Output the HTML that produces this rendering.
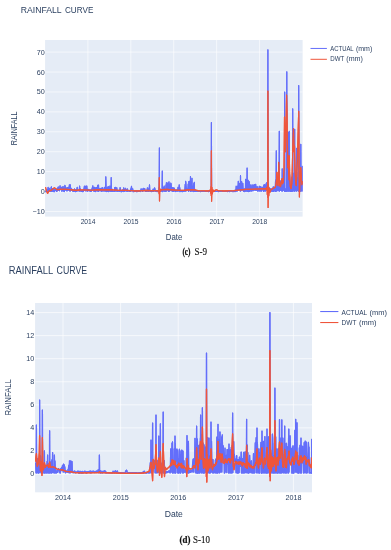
<!DOCTYPE html>
<html lang="en"><head><meta charset="utf-8"><title>Rainfall curves S-9 and S-10</title>
<style>html,body{margin:0;padding:0;background:#fff}body{width:391px;height:550px;overflow:hidden}svg{display:block}text{font-family:"Liberation Sans",Arial,sans-serif;fill:#2a3f5f}.cap{font-family:"Liberation Serif","Times New Roman",serif;fill:#111}</style>
</head><body>
<svg width="391" height="550" viewBox="0 0 391 550">
<rect width="391" height="550" fill="#fff"/>
<defs><clipPath id="c1"><rect x="45.1" y="40.0" width="257.5" height="176.6"/></clipPath><clipPath id="c2"><rect x="35.1" y="303.0" width="276.9" height="189.3"/></clipPath></defs>
<rect x="45.1" y="40.0" width="257.5" height="176.6" fill="#E5ECF6"/>
<g stroke="#fff" stroke-width="0.6"><line x1="87.90" y1="40.0" x2="87.90" y2="216.6"/><line x1="130.82" y1="40.0" x2="130.82" y2="216.6"/><line x1="173.74" y1="40.0" x2="173.74" y2="216.6"/><line x1="216.66" y1="40.0" x2="216.66" y2="216.6"/><line x1="259.58" y1="40.0" x2="259.58" y2="216.6"/><line x1="45.1" y1="211.53" x2="302.6" y2="211.53"/><line x1="45.1" y1="191.60" x2="302.6" y2="191.60" stroke-width="1.1"/><line x1="45.1" y1="171.67" x2="302.6" y2="171.67"/><line x1="45.1" y1="151.74" x2="302.6" y2="151.74"/><line x1="45.1" y1="131.81" x2="302.6" y2="131.81"/><line x1="45.1" y1="111.88" x2="302.6" y2="111.88"/><line x1="45.1" y1="91.95" x2="302.6" y2="91.95"/><line x1="45.1" y1="72.02" x2="302.6" y2="72.02"/><line x1="45.1" y1="52.09" x2="302.6" y2="52.09"/></g>
<g clip-path="url(#c1)" fill="none" stroke-linejoin="round">
<polyline id="b1" stroke="#636efa" stroke-width="1.15" points="45.10,191.51 45.40,191.56 45.70,191.24 46.00,191.09 46.30,191.17 46.60,191.51 46.90,190.78 47.20,189.75 47.50,190.91 47.80,191.54 48.10,187.29 48.40,189.68 48.70,191.38 49.00,191.15 49.30,188.33 49.60,189.97 49.90,191.22 50.20,191.24 50.50,191.31 50.80,190.55 51.10,187.72 51.40,186.88 51.70,191.42 52.00,188.53 52.30,191.19 52.60,188.98 52.90,191.18 53.20,190.92 53.50,191.56 53.80,190.89 54.10,189.09 54.40,191.58 54.70,189.81 55.00,190.50 55.30,189.20 55.60,190.24 55.90,188.99 56.20,190.97 56.50,191.40 56.80,189.90 57.10,191.30 57.40,188.26 57.70,190.44 58.00,187.78 58.30,186.92 58.60,190.24 58.90,190.27 59.20,190.06 59.50,190.83 59.80,187.03 60.10,185.73 60.40,188.86 60.70,188.34 61.00,188.94 61.30,188.40 61.60,187.22 61.90,191.31 62.20,187.84 62.50,187.22 62.80,190.68 63.10,186.56 63.40,188.67 63.70,191.28 64.00,190.56 64.30,191.55 64.60,189.90 64.90,185.39 65.20,187.21 65.50,190.06 65.80,187.41 66.10,189.92 66.40,190.14 66.70,190.90 67.00,189.07 67.30,187.69 67.60,190.72 67.90,189.72 68.20,187.22 68.50,187.98 68.80,189.82 69.10,190.31 69.40,184.81 69.70,190.06 70.00,191.25 70.30,184.87 70.60,190.82 70.90,190.17 71.20,188.29 71.50,190.01 71.80,189.67 72.10,189.42 72.40,189.64 72.70,191.13 73.00,191.29 73.30,191.45 73.60,190.23 73.90,191.41 74.20,189.90 74.50,188.91 74.80,190.95 75.10,191.24 75.40,191.59 75.70,189.85 76.00,191.48 76.30,191.20 76.60,191.20 76.90,189.16 77.20,187.30 77.50,190.81 77.80,190.18 78.10,190.81 78.40,190.90 78.70,190.14 79.00,190.14 79.30,190.13 79.60,186.08 79.90,191.49 80.20,188.69 80.50,190.21 80.80,190.57 81.10,191.02 81.40,191.36 81.70,191.10 82.00,191.29 82.30,190.31 82.60,191.59 82.90,191.59 83.20,191.29 83.50,191.13 83.80,189.26 84.10,188.58 84.40,186.34 84.70,190.18 85.00,186.17 85.30,190.71 85.60,186.69 85.90,190.94 86.20,190.61 86.50,186.25 86.80,186.01 87.10,191.07 87.40,191.18 87.70,191.23 88.00,189.26 88.30,190.80 88.60,190.36 88.90,189.61 89.20,190.05 89.50,190.30 89.80,190.46 90.10,191.49 90.40,191.54 90.70,191.30 91.00,189.49 91.30,191.01 91.60,191.18 91.90,189.82 92.20,187.83 92.50,188.89 92.80,185.92 93.10,188.73 93.40,190.44 93.70,188.15 94.00,191.33 94.30,187.35 94.60,190.65 94.90,191.06 95.20,187.79 95.50,190.73 95.80,191.59 96.10,188.24 96.40,187.58 96.70,189.41 97.00,190.68 97.30,190.36 97.60,185.25 97.90,191.34 98.20,191.52 98.30,191.20 98.50,190.51 98.50,185.02 98.70,191.00 98.80,191.36 99.10,190.15 99.40,190.59 99.70,190.40 100.00,188.40 100.30,189.72 100.60,190.93 100.90,190.79 101.20,188.53 101.50,191.00 101.80,191.52 102.10,187.70 102.40,189.92 102.70,187.72 103.00,191.01 103.30,190.78 103.60,190.83 103.90,189.91 104.20,191.13 104.50,187.26 104.80,189.47 105.10,190.55 105.40,190.88 105.60,191.20 105.70,187.70 105.80,176.85 106.00,185.84 106.00,191.00 106.30,191.57 106.60,190.10 106.90,187.78 107.20,191.27 107.50,187.20 107.80,191.39 108.10,190.22 108.40,186.67 108.70,191.56 109.00,190.90 109.30,188.42 109.60,188.24 109.90,186.08 110.20,191.41 110.50,190.20 110.80,188.47 111.00,191.20 111.10,191.25 111.20,177.65 111.40,191.44 111.40,191.00 111.70,190.80 112.00,189.49 112.30,189.32 112.60,191.49 112.90,191.07 113.20,191.05 113.50,191.17 113.80,191.33 114.10,191.16 114.40,191.40 114.70,187.68 115.00,190.08 115.30,191.13 115.60,187.31 115.90,189.01 116.20,190.83 116.50,190.05 116.80,187.78 117.10,191.49 117.40,191.49 117.70,191.29 118.00,190.54 118.30,191.11 118.60,190.97 118.90,191.20 119.20,191.27 119.50,191.45 119.80,190.85 120.10,187.49 120.40,189.37 120.70,190.52 121.00,191.58 121.30,190.58 121.60,191.60 121.90,190.66 122.20,191.32 122.50,189.89 122.80,190.53 123.10,190.73 123.40,191.56 123.70,187.75 124.00,191.25 124.30,189.83 124.60,191.47 124.90,190.94 125.20,189.00 125.50,188.32 125.80,190.51 126.10,191.06 126.40,189.49 126.70,191.25 127.00,190.83 127.30,188.90 127.60,191.34 127.90,190.13 128.20,190.92 128.50,190.81 128.80,191.10 129.10,190.63 129.40,190.78 129.70,191.38 130.00,191.31 130.30,191.35 130.60,189.20 130.90,191.41 131.20,188.57 131.50,186.43 131.80,189.83 132.10,190.44 132.40,190.37 132.70,188.81 133.00,191.56 133.30,191.22 133.60,191.27 133.90,191.60 134.20,191.25 134.50,191.48 134.80,191.39 135.10,190.78 135.40,191.17 135.70,191.13 136.00,190.68 136.30,191.24 136.60,191.57 136.90,190.79 137.20,191.56 137.50,191.54 137.80,191.34 138.10,190.70 138.40,191.33 138.70,190.99 139.00,190.89 139.30,191.33 139.60,190.85 139.90,190.97 140.20,191.58 140.50,191.13 140.80,190.65 141.10,188.87 141.40,190.49 141.70,190.72 142.00,190.87 142.30,189.07 142.60,191.51 142.90,191.30 143.20,189.95 143.50,188.31 143.80,190.42 144.10,189.28 144.40,190.75 144.70,188.67 145.00,190.79 145.30,190.76 145.60,191.48 145.90,191.31 146.20,191.23 146.50,191.40 146.80,191.36 147.10,190.56 147.40,187.81 147.70,191.18 148.00,189.82 148.30,190.13 148.60,191.53 148.90,187.97 149.20,190.55 149.50,184.78 149.80,191.13 150.10,190.85 150.40,191.12 150.70,191.43 151.00,191.49 151.30,191.40 151.60,191.08 151.90,191.59 152.20,191.06 152.50,191.35 152.80,190.97 153.10,188.98 153.40,190.18 153.70,191.51 154.00,191.21 154.30,189.69 154.60,187.90 154.90,188.93 155.20,190.74 155.50,191.24 155.80,190.87 156.10,191.59 156.40,191.18 156.70,191.20 157.00,191.14 157.30,191.59 157.60,190.96 157.90,191.51 158.20,191.23 158.50,191.45 158.80,191.08 159.10,187.07 159.20,191.20 159.40,147.95 159.40,190.44 159.60,191.00 159.70,189.50 160.00,191.02 160.30,191.14 160.60,190.61 160.90,191.33 161.20,190.61 161.50,189.55 161.80,191.14 162.10,191.20 162.10,189.75 162.30,171.07 162.40,191.55 162.50,191.00 162.70,191.55 163.00,187.36 163.30,190.85 163.60,190.90 163.90,191.07 164.20,186.08 164.50,191.07 164.80,190.56 165.10,191.36 165.40,191.39 165.70,191.51 166.00,184.82 166.20,191.20 166.30,190.44 166.40,182.83 166.60,191.00 166.60,190.74 166.90,182.82 167.20,189.94 167.50,183.69 167.80,189.43 168.10,183.05 168.40,191.45 168.70,191.24 168.80,191.20 169.00,181.83 169.00,183.17 169.20,191.00 169.30,183.68 169.60,191.13 169.90,190.88 170.20,188.64 170.50,190.06 170.80,183.18 171.10,183.88 171.40,190.78 171.70,190.28 172.00,187.65 172.30,191.18 172.60,187.90 172.90,191.21 173.20,191.41 173.50,188.07 173.80,187.84 174.10,190.97 174.40,188.31 174.70,190.30 175.00,191.13 175.30,191.46 175.60,191.58 175.90,190.30 176.20,189.99 176.50,190.97 176.80,191.09 177.10,191.34 177.40,189.86 177.70,190.76 178.00,187.43 178.30,190.59 178.60,190.80 178.90,191.15 179.20,184.91 179.50,186.78 179.80,188.25 180.10,191.59 180.40,191.04 180.70,191.48 181.00,191.30 181.30,191.11 181.60,191.42 181.90,191.57 182.20,191.13 182.50,191.60 182.80,191.15 183.10,191.16 183.40,191.46 183.70,191.46 184.00,191.40 184.30,191.18 184.60,190.88 184.90,189.48 185.20,184.43 185.40,191.20 185.50,191.02 185.60,181.24 185.80,191.00 185.80,181.74 186.10,186.41 186.40,189.59 186.70,190.72 187.00,189.90 187.30,188.97 187.60,189.72 187.90,189.65 188.20,184.07 188.50,191.39 188.80,181.51 189.10,188.17 189.40,181.37 189.70,187.30 190.00,189.89 190.30,191.20 190.30,191.42 190.50,176.65 190.60,183.92 190.70,191.00 190.90,189.20 191.20,189.14 191.50,181.26 191.80,191.20 191.80,186.82 192.00,178.25 192.10,189.42 192.20,191.00 192.40,189.90 192.70,186.21 193.00,191.05 193.30,191.54 193.60,186.44 193.90,182.98 194.20,191.20 194.20,190.24 194.40,182.23 194.50,191.52 194.60,191.00 194.80,189.52 195.10,190.15 195.40,191.36 195.70,191.52 196.00,191.50 196.30,191.11 196.60,191.36 196.90,191.20 197.20,191.35 197.50,191.19 197.80,191.13 198.10,191.49 198.40,191.35 198.70,191.28 199.00,191.21 199.30,191.21 199.60,191.42 199.90,191.40 200.20,191.56 200.50,191.59 200.80,191.47 201.10,191.35 201.40,191.16 201.70,191.37 202.00,191.22 202.30,191.28 202.60,191.44 202.90,191.18 203.20,191.23 203.50,191.38 203.80,191.31 204.10,191.37 204.40,191.48 204.70,191.45 205.00,191.18 205.30,191.52 205.60,191.44 205.90,191.52 206.20,191.51 206.50,191.24 206.80,191.12 207.10,191.41 207.40,191.20 207.70,191.38 208.00,191.28 208.30,191.50 208.60,191.58 208.90,191.21 209.20,191.35 209.50,191.37 209.80,191.30 210.10,191.23 210.40,191.39 210.70,191.23 211.00,191.49 211.20,191.20 211.30,191.16 211.40,122.64 211.60,191.00 211.60,191.25 211.90,191.26 212.20,191.37 212.50,191.29 212.80,191.39 213.10,191.24 213.40,191.48 213.70,191.37 214.00,191.40 214.30,191.14 214.60,191.27 214.90,191.41 215.20,191.11 215.50,191.33 215.80,191.21 216.10,191.34 216.40,191.31 216.70,191.24 217.00,191.28 217.30,191.34 217.60,191.13 217.90,191.26 218.20,191.22 218.50,191.11 218.80,191.57 219.10,191.40 219.40,191.39 219.70,191.25 220.00,191.47 220.30,191.23 220.60,191.34 220.90,191.20 221.20,191.49 221.50,191.21 221.80,191.28 222.10,191.32 222.40,191.12 222.70,191.28 223.00,191.19 223.30,191.45 223.60,191.54 223.90,191.42 224.20,191.47 224.50,191.47 224.80,191.51 225.10,191.24 225.40,191.48 225.70,191.36 226.00,191.28 226.30,191.42 226.60,191.17 226.90,191.19 227.20,191.21 227.50,191.19 227.80,191.59 228.10,191.13 228.40,191.48 228.70,191.53 229.00,191.21 229.30,191.52 229.60,191.21 229.90,191.16 230.20,191.21 230.50,191.15 230.80,191.18 231.10,191.25 231.40,191.23 231.70,191.16 232.00,191.47 232.30,191.53 232.60,191.57 232.90,191.53 233.20,191.35 233.50,191.59 233.80,190.76 234.10,191.04 234.40,191.49 234.70,191.56 235.00,190.21 235.30,190.84 235.60,191.55 235.90,191.09 236.20,186.20 236.50,190.45 236.80,190.97 237.10,191.16 237.40,186.34 237.70,187.70 238.00,189.64 238.30,181.38 238.60,185.36 238.90,189.26 239.20,188.95 239.50,183.45 239.80,185.50 240.10,189.78 240.30,191.20 240.40,188.88 240.50,175.66 240.70,191.00 240.70,189.73 241.00,189.56 241.30,190.23 241.60,181.63 241.90,186.50 242.20,189.64 242.50,189.25 242.80,183.31 243.10,190.65 243.40,188.81 243.70,191.48 244.00,189.88 244.30,191.56 244.60,188.80 244.90,190.37 245.20,190.97 245.40,191.20 245.50,186.74 245.60,179.24 245.80,191.00 245.80,191.24 246.10,179.92 246.40,180.73 246.70,190.88 246.90,191.20 247.00,181.87 247.10,168.08 247.30,191.00 247.30,189.47 247.60,191.35 247.90,190.22 248.20,180.21 248.50,191.57 248.80,189.16 249.10,187.35 249.40,181.91 249.70,191.42 250.00,190.76 250.30,185.68 250.60,185.03 250.90,190.80 251.20,189.79 251.50,191.04 251.80,190.25 252.10,184.87 252.40,190.01 252.70,186.08 253.00,190.88 253.30,189.89 253.60,184.98 253.90,189.30 254.20,190.04 254.50,184.55 254.80,189.94 255.10,186.24 255.40,190.29 255.70,184.41 256.00,190.07 256.30,189.82 256.60,190.30 256.90,186.81 257.20,190.09 257.50,186.84 257.80,191.15 258.10,189.91 258.40,190.47 258.70,188.29 259.00,190.91 259.30,186.28 259.60,186.53 259.90,190.88 260.20,190.09 260.50,190.94 260.80,186.52 261.10,189.94 261.40,191.10 261.70,189.79 262.00,189.41 262.30,187.26 262.60,187.59 262.90,188.34 263.20,190.56 263.50,191.45 263.80,185.07 264.10,191.02 264.40,189.43 264.70,184.61 265.00,186.02 265.30,191.10 265.60,188.63 265.90,189.54 266.20,183.55 266.50,190.13 266.80,182.60 267.10,189.47 267.40,184.57 267.70,191.20 267.70,191.47 267.90,49.90 268.00,189.08 268.10,191.00 268.30,191.40 268.60,189.37 268.90,187.90 269.20,187.76 269.50,191.34 269.80,190.54 270.10,191.48 270.40,190.85 270.70,188.65 271.00,190.85 271.30,189.69 271.60,190.94 271.90,191.28 272.20,188.79 272.50,191.20 272.80,191.22 273.10,187.14 273.40,186.89 273.70,191.35 274.00,188.57 274.30,189.30 274.60,190.41 274.90,187.07 275.20,191.43 275.50,181.93 275.80,179.82 276.10,191.20 276.10,181.26 276.30,150.74 276.40,186.84 276.50,191.00 276.70,191.04 277.00,190.95 277.30,183.23 277.60,189.47 277.90,186.37 278.20,190.12 278.50,185.72 278.80,189.17 279.10,191.20 279.10,183.13 279.30,131.21 279.40,190.38 279.50,191.00 279.70,181.97 280.00,181.23 280.30,190.13 280.60,190.18 280.90,180.71 281.20,190.50 281.50,186.64 281.80,183.03 282.00,191.20 282.10,190.06 282.20,168.88 282.40,191.00 282.40,189.16 282.70,180.77 283.00,182.06 283.30,181.72 283.60,190.12 283.90,189.99 284.20,190.53 284.50,191.20 284.50,183.42 284.70,92.15 284.80,191.46 284.90,191.00 285.10,190.67 285.40,188.84 285.70,191.11 286.00,191.38 286.30,189.20 286.60,191.20 286.60,182.12 286.80,71.82 286.90,180.43 287.00,191.00 287.20,190.90 287.50,190.81 287.80,189.74 287.90,191.20 288.10,132.41 288.10,189.09 288.30,191.00 288.40,187.88 288.70,181.33 289.00,186.91 289.10,191.20 289.30,131.41 289.30,187.70 289.50,191.00 289.60,174.51 289.90,187.13 290.20,188.57 290.50,191.27 290.80,191.50 291.10,187.89 291.40,187.73 291.70,191.44 292.00,177.27 292.30,176.77 292.50,191.20 292.60,188.63 292.70,108.89 292.90,191.00 292.90,189.53 293.20,173.13 293.50,191.02 293.80,189.14 294.10,189.05 294.40,183.87 294.50,191.20 294.70,129.22 294.70,184.10 294.90,191.00 295.00,180.42 295.30,182.60 295.60,188.68 295.90,190.64 296.20,188.98 296.40,191.20 296.50,190.11 296.60,148.35 296.80,191.00 296.80,182.62 297.10,179.00 297.40,178.02 297.70,190.46 298.00,190.24 298.30,172.63 298.50,191.20 298.60,175.52 298.70,85.57 298.90,191.00 298.90,189.50 299.20,185.03 299.50,191.08 299.80,188.07 300.10,183.79 300.40,188.65 300.60,191.20 300.70,189.12 300.80,144.37 301.00,191.00 301.00,187.97 301.30,188.21 301.60,173.61 301.90,174.20 302.20,191.20 302.20,189.22 302.40,166.29 302.50,189.60 302.60,191.00"/><use href="#b1"/>
<polyline id="r1" stroke="#EF553B" stroke-width="1.15" points="45.50,187.22 46.30,190.60 47.60,193.39 49.00,191.00 51.00,190.40 54.40,187.81 57.00,189.61 60.00,189.41 66.00,189.21 72.00,189.81 76.00,190.40 80.00,189.81 86.00,190.01 92.00,190.20 98.00,189.61 104.00,189.81 108.00,189.61 112.00,189.81 118.00,190.20 126.00,190.40 134.00,190.80 140.00,190.80 146.00,190.40 152.00,190.60 157.00,190.60 158.80,191.20 159.10,193.59 159.30,177.65 159.50,200.97 159.80,188.61 160.30,191.20 161.00,189.81 163.00,189.61 167.00,189.41 172.00,189.81 178.00,190.20 184.00,190.40 188.00,189.81 194.00,189.81 198.00,190.60 205.00,190.80 209.00,190.80 210.30,190.01 210.70,193.19 211.00,186.62 211.20,195.59 211.40,150.94 211.60,201.17 211.90,187.22 212.30,193.99 212.90,189.81 213.80,191.60 215.00,190.40 216.50,189.81 218.00,190.60 222.00,190.80 228.00,190.80 234.00,190.60 240.00,190.01 246.00,189.41 252.00,189.21 258.00,189.01 262.00,188.81 265.00,188.61 266.50,189.21 267.00,187.22 267.30,194.59 267.60,183.63 267.80,197.58 267.90,90.95 268.10,207.54 268.40,184.62 268.80,195.59 269.30,188.41 270.00,192.20 271.00,189.61 273.00,188.61 275.00,187.61 276.00,184.62 276.50,179.64 277.00,172.27 277.50,183.63 278.00,185.62 278.40,179.64 278.70,162.30 279.20,175.66 279.80,185.62 280.50,186.62 281.20,182.63 282.00,178.65 282.60,183.63 283.40,181.63 284.00,167.68 284.50,117.06 285.00,131.81 285.50,151.74 286.00,127.82 286.60,95.14 287.00,111.88 287.40,141.77 287.80,167.68 288.20,155.73 288.60,171.67 289.00,179.64 289.30,155.73 289.70,175.66 290.30,186.62 291.00,188.61 291.80,183.63 292.30,167.68 292.80,147.75 293.50,128.62 294.00,151.74 294.50,146.16 295.00,167.68 295.60,181.63 296.20,185.62 296.80,175.66 297.40,159.71 298.00,135.80 298.70,111.28 299.10,161.70 299.40,196.98 299.80,183.63 300.30,173.66 300.80,167.68 301.40,179.64 302.00,184.62 302.60,181.63 303.00,183.63"/><use href="#r1"/>
</g>
<text y="12.8" font-size="9.9"><tspan x="20.7" textLength="40.7" lengthAdjust="spacingAndGlyphs">RAINFALL</tspan> <tspan x="65.0" textLength="28.3" lengthAdjust="spacingAndGlyphs">CURVE</tspan></text>
<text x="44.7" y="214.03" font-size="7.2" text-anchor="end">−10</text>
<text x="44.7" y="194.10" font-size="7.2" text-anchor="end">0</text>
<text x="44.7" y="174.17" font-size="7.2" text-anchor="end">10</text>
<text x="44.7" y="154.24" font-size="7.2" text-anchor="end">20</text>
<text x="44.7" y="134.31" font-size="7.2" text-anchor="end">30</text>
<text x="44.7" y="114.38" font-size="7.2" text-anchor="end">40</text>
<text x="44.7" y="94.45" font-size="7.2" text-anchor="end">50</text>
<text x="44.7" y="74.52" font-size="7.2" text-anchor="end">60</text>
<text x="44.7" y="54.59" font-size="7.2" text-anchor="end">70</text>
<text x="88.10" y="224" font-size="6.7" text-anchor="middle">2014</text>
<text x="131.02" y="224" font-size="6.7" text-anchor="middle">2015</text>
<text x="173.94" y="224" font-size="6.7" text-anchor="middle">2016</text>
<text x="216.86" y="224" font-size="6.7" text-anchor="middle">2017</text>
<text x="259.78" y="224" font-size="6.7" text-anchor="middle">2018</text>
<text x="165.8" y="239.9" font-size="8.5" textLength="16.6" lengthAdjust="spacingAndGlyphs">Date</text>
<text transform="translate(17.2,145.2) rotate(-90)" font-size="8.6" textLength="33.7" lengthAdjust="spacingAndGlyphs">RAINFALL</text>
<line x1="310.5" y1="48.45" x2="326.9" y2="48.45" stroke="#636efa" stroke-width="1.0"/>
<line x1="310.5" y1="59.3" x2="326.9" y2="59.3" stroke="#EF553B" stroke-width="1.0"/>
<text y="50.5" font-size="6.9"><tspan x="330.35" textLength="23.05" lengthAdjust="spacingAndGlyphs">ACTUAL</tspan> <tspan x="355.9" textLength="16.4" lengthAdjust="spacingAndGlyphs">(mm)</tspan></text>
<text y="61.4" font-size="6.9"><tspan x="330.3" textLength="13.9" lengthAdjust="spacingAndGlyphs">DWT</tspan> <tspan x="346.3" textLength="16.6" lengthAdjust="spacingAndGlyphs">(mm)</tspan></text>
<text class="cap" x="182.4" y="255.4" font-size="9.3" font-weight="bold" stroke="#111" stroke-width="0.2" textLength="8.1" lengthAdjust="spacingAndGlyphs">(c)</text><text class="cap" x="194.5" y="255.4" font-size="9.3" stroke="#111" stroke-width="0.12" textLength="12.6" lengthAdjust="spacingAndGlyphs">S-9</text>
<rect x="35.1" y="303.0" width="276.9" height="189.3" fill="#E5ECF6"/>
<g stroke="#fff" stroke-width="0.65"><line x1="63.00" y1="303.0" x2="63.00" y2="492.3"/><line x1="120.60" y1="303.0" x2="120.60" y2="492.3"/><line x1="178.20" y1="303.0" x2="178.20" y2="492.3"/><line x1="235.80" y1="303.0" x2="235.80" y2="492.3"/><line x1="293.40" y1="303.0" x2="293.40" y2="492.3"/><line x1="35.1" y1="474.00" x2="312.0" y2="474.00" stroke-width="1.2"/><line x1="35.1" y1="450.94" x2="312.0" y2="450.94"/><line x1="35.1" y1="427.88" x2="312.0" y2="427.88"/><line x1="35.1" y1="404.82" x2="312.0" y2="404.82"/><line x1="35.1" y1="381.76" x2="312.0" y2="381.76"/><line x1="35.1" y1="358.70" x2="312.0" y2="358.70"/><line x1="35.1" y1="335.64" x2="312.0" y2="335.64"/><line x1="35.1" y1="312.58" x2="312.0" y2="312.58"/></g>
<g clip-path="url(#c2)" fill="none" stroke-linejoin="round">
<polyline id="b2" stroke="#636efa" stroke-width="1.25" points="35.10,463.42 35.40,464.51 35.70,463.10 36.00,472.81 36.22,471.95 36.30,460.65 36.40,425.06 36.58,471.95 36.60,472.93 36.90,472.63 37.20,469.01 37.50,458.56 37.80,461.18 38.10,473.09 38.40,468.20 38.70,472.96 39.00,472.83 39.30,458.05 39.42,471.95 39.60,460.84 39.60,400.06 39.78,471.95 39.90,460.54 40.20,465.61 40.50,455.88 40.80,459.92 41.10,472.97 41.40,473.06 41.70,464.04 42.00,464.23 42.22,471.95 42.30,457.98 42.40,410.09 42.58,471.95 42.60,472.98 42.90,463.13 43.20,464.08 43.50,472.74 43.80,465.71 44.10,472.91 44.22,471.95 44.40,462.00 44.40,450.98 44.58,471.95 44.70,472.96 45.00,473.07 45.30,468.09 45.60,465.36 45.90,472.68 46.20,472.73 46.50,472.86 46.80,472.94 47.10,461.49 47.40,472.59 47.42,471.95 47.60,455.01 47.70,472.87 47.78,471.95 48.00,463.28 48.30,472.53 48.60,472.95 48.90,466.59 49.20,473.06 49.42,471.95 49.50,472.76 49.60,430.82 49.78,471.95 49.80,472.75 50.10,466.60 50.40,466.33 50.70,462.84 51.00,473.01 51.30,461.33 51.60,472.99 51.90,459.95 52.20,472.55 52.42,471.95 52.50,463.69 52.60,452.71 52.78,471.95 52.80,468.79 53.10,472.55 53.40,472.69 53.70,472.63 54.00,466.95 54.22,471.95 54.30,472.69 54.40,455.01 54.58,471.95 54.60,472.97 54.90,460.95 55.20,467.09 55.50,467.84 55.80,472.94 56.10,471.05 56.40,472.82 56.70,472.29 57.00,471.40 57.30,470.46 57.60,472.49 57.90,471.43 58.20,468.99 58.50,468.58 58.80,470.07 59.10,469.91 59.40,470.41 59.70,472.45 60.00,472.94 60.30,473.02 60.60,468.91 60.90,469.87 61.20,470.70 61.50,467.70 61.80,468.83 62.10,470.39 62.40,465.85 62.70,465.85 63.00,465.44 63.22,471.95 63.30,468.61 63.40,464.23 63.58,471.95 63.60,464.63 63.90,468.15 64.20,464.91 64.50,466.67 64.80,466.98 65.10,471.70 65.40,472.92 65.70,471.63 66.00,470.81 66.30,471.07 66.60,471.42 66.90,472.21 67.20,471.41 67.50,471.76 67.80,472.09 68.10,469.31 68.40,469.73 68.70,465.68 69.00,472.70 69.30,464.37 69.32,471.95 69.50,460.77 69.60,467.81 69.68,471.95 69.90,472.93 70.20,468.29 70.50,472.58 70.62,471.95 70.80,466.06 70.80,460.77 70.98,471.95 71.10,467.15 71.40,468.33 71.70,462.44 72.00,461.67 72.30,472.30 72.60,471.89 72.90,472.44 73.20,472.82 73.50,472.07 73.80,471.36 74.10,471.34 74.40,471.63 74.70,471.13 75.00,472.53 75.30,472.75 75.60,472.17 75.90,472.53 76.20,472.66 76.50,472.24 76.80,471.80 77.10,472.08 77.40,472.45 77.70,471.36 78.00,471.06 78.30,472.16 78.60,472.95 78.90,473.03 79.20,471.29 79.50,473.01 79.80,471.63 80.10,471.92 80.40,472.46 80.70,471.46 81.00,473.06 81.30,472.82 81.60,472.16 81.90,473.05 82.20,471.38 82.50,472.61 82.80,472.81 83.10,473.00 83.40,471.80 83.70,472.17 84.00,471.79 84.30,471.74 84.60,471.43 84.90,471.11 85.20,471.68 85.50,472.69 85.80,472.11 86.10,472.73 86.40,473.08 86.70,472.12 87.00,471.62 87.30,472.73 87.60,472.54 87.90,472.38 88.20,471.65 88.50,472.02 88.80,471.83 89.10,471.53 89.40,472.28 89.70,471.46 90.00,471.22 90.30,472.92 90.60,471.17 90.90,471.60 91.20,472.83 91.50,472.16 91.80,471.80 92.10,471.21 92.40,472.32 92.70,471.92 93.00,471.28 93.30,471.45 93.60,471.14 93.90,472.14 94.20,471.75 94.50,472.68 94.80,471.60 95.10,471.40 95.40,471.77 95.70,471.61 96.00,472.66 96.30,471.23 96.60,471.07 96.90,471.07 97.20,471.99 97.50,471.46 97.80,472.44 98.10,469.96 98.40,470.14 98.70,471.90 99.00,472.81 99.22,471.95 99.30,471.58 99.40,455.01 99.58,471.95 99.60,471.20 99.90,470.44 100.20,471.42 100.50,473.00 100.80,471.24 101.10,472.95 101.40,471.26 101.70,472.70 102.00,472.33 102.30,471.28 102.60,472.78 102.90,472.76 103.20,471.91 103.50,471.43 103.80,471.16 104.10,471.51 104.40,470.92 104.70,471.97 105.00,470.91 105.30,472.90 105.60,472.59 105.90,471.89 106.20,472.93 106.50,472.68 106.80,472.73 107.10,472.80 107.40,472.61 107.70,472.78 108.00,472.92 108.30,472.88 108.60,472.61 108.90,472.58 109.20,472.98 109.50,472.61 109.80,472.54 110.10,472.80 110.40,472.77 110.70,472.98 111.00,472.79 111.30,472.81 111.60,472.75 111.90,473.08 112.20,472.54 112.50,472.80 112.80,472.87 113.10,471.25 113.40,471.80 113.70,471.97 114.00,471.51 114.30,472.95 114.60,471.86 114.90,472.15 115.20,470.90 115.50,470.97 115.80,472.48 116.10,472.01 116.40,472.81 116.70,472.10 117.00,471.22 117.30,471.03 117.60,472.00 117.90,472.37 118.20,472.99 118.50,472.74 118.80,472.57 119.10,473.03 119.40,472.65 119.70,473.09 120.00,472.99 120.30,472.97 120.60,472.70 120.90,472.91 121.20,472.90 121.50,472.74 121.80,473.04 122.10,472.68 122.40,473.03 122.70,472.81 123.00,472.96 123.30,472.99 123.60,472.79 123.90,472.85 124.20,472.88 124.50,472.86 124.80,472.80 125.10,472.55 125.40,472.39 125.70,470.92 126.00,470.89 126.30,471.27 126.60,470.16 126.90,470.99 127.20,472.61 127.50,472.97 127.80,472.67 128.10,472.63 128.40,472.58 128.70,472.92 129.00,472.92 129.30,472.57 129.60,472.97 129.90,472.52 130.20,472.59 130.50,473.02 130.80,472.96 131.10,472.68 131.40,472.95 131.70,473.04 132.00,472.62 132.30,472.86 132.60,472.64 132.90,473.03 133.20,472.87 133.50,472.71 133.80,473.09 134.10,472.98 134.40,472.71 134.70,472.58 135.00,472.54 135.30,473.03 135.60,472.81 135.90,472.66 136.20,472.81 136.50,472.71 136.80,472.99 137.10,473.06 137.40,473.04 137.70,473.08 138.00,472.78 138.30,472.80 138.60,472.77 138.90,473.02 139.20,472.99 139.50,472.98 139.80,472.62 140.10,472.53 140.40,472.57 140.70,473.05 141.00,473.06 141.30,472.55 141.60,472.83 141.90,472.66 142.20,472.91 142.50,472.83 142.80,472.80 143.10,472.11 143.40,471.72 143.70,473.07 144.00,471.48 144.30,471.15 144.60,472.68 144.90,472.05 145.20,472.67 145.50,472.87 145.80,472.99 146.10,473.00 146.40,472.80 146.70,473.09 147.00,472.59 147.30,472.64 147.60,472.69 147.90,472.60 148.20,472.74 148.50,472.87 148.80,472.75 149.10,472.81 149.40,472.53 149.70,472.64 150.00,472.95 150.30,463.06 150.60,462.35 150.82,471.95 150.90,461.50 151.00,440.04 151.18,471.95 151.20,463.56 151.50,462.85 151.80,463.28 152.10,472.90 152.40,469.87 152.42,471.95 152.60,423.10 152.70,464.13 152.78,471.95 153.00,468.03 153.30,463.85 153.60,463.92 153.90,465.17 154.20,460.43 154.50,463.50 154.80,460.64 155.10,472.75 155.40,467.80 155.70,469.58 155.82,471.95 156.00,415.04 156.00,472.88 156.18,471.95 156.30,472.96 156.60,465.01 156.90,460.77 157.20,460.48 157.50,462.40 157.80,472.76 158.10,469.62 158.40,468.67 158.62,471.95 158.70,468.59 158.80,436.01 158.98,471.95 159.00,464.40 159.30,472.56 159.60,465.24 159.90,466.79 160.20,472.72 160.22,471.95 160.40,423.91 160.50,467.56 160.58,471.95 160.80,467.44 161.10,472.96 161.40,473.01 161.70,466.56 162.00,463.02 162.30,472.53 162.60,469.39 162.90,466.18 163.02,471.95 163.20,412.04 163.20,460.71 163.38,471.95 163.50,472.80 163.80,463.28 164.10,460.65 164.40,464.48 164.70,472.74 165.00,472.05 165.30,472.63 165.60,472.98 165.90,471.88 166.20,472.81 166.50,472.08 166.80,471.56 167.10,472.05 167.40,472.50 167.70,471.76 168.00,472.13 168.30,471.31 168.60,471.88 168.90,470.80 169.20,470.91 169.50,471.41 169.80,472.55 170.10,472.84 170.40,471.04 170.70,449.00 171.00,458.28 171.30,450.63 171.60,448.78 171.82,471.95 171.90,460.29 172.00,443.03 172.18,471.95 172.20,472.54 172.50,441.97 172.80,473.06 173.10,472.86 173.40,462.35 173.70,463.01 174.00,472.71 174.30,448.84 174.60,452.94 174.82,471.95 174.90,472.90 175.00,436.01 175.18,471.95 175.20,443.10 175.50,473.03 175.80,449.04 176.10,459.73 176.40,458.62 176.70,460.99 177.00,449.12 177.30,472.78 177.60,450.48 177.90,460.99 178.20,472.60 178.50,473.05 178.80,458.87 179.10,462.25 179.22,471.95 179.40,449.25 179.40,465.99 179.58,471.95 179.70,472.72 180.00,472.93 180.30,454.91 180.60,473.02 180.82,471.95 180.90,454.30 181.00,450.98 181.18,471.95 181.20,465.33 181.50,457.29 181.80,450.10 182.10,459.73 182.40,462.14 182.70,472.87 183.00,451.00 183.30,472.89 183.60,461.09 183.90,460.66 184.20,472.43 184.50,471.15 184.80,470.35 185.10,471.23 185.40,470.21 185.70,471.16 186.00,472.66 186.30,458.03 186.60,472.80 186.82,471.95 186.90,450.56 187.00,435.66 187.18,471.95 187.20,448.29 187.50,463.20 187.80,444.51 188.10,473.05 188.40,441.40 188.70,472.81 189.00,470.91 189.30,472.60 189.60,470.52 189.90,470.86 190.20,472.25 190.50,472.34 190.80,470.45 191.10,471.30 191.40,470.46 191.70,471.74 192.00,471.93 192.30,469.75 192.60,464.19 192.90,461.52 193.20,459.17 193.42,471.95 193.50,460.25 193.60,459.05 193.78,471.95 193.80,459.92 194.10,460.16 194.40,458.64 194.70,463.84 195.00,438.32 195.30,450.74 195.60,472.67 195.90,452.14 196.20,472.98 196.42,471.95 196.50,454.70 196.60,426.21 196.78,471.95 196.80,461.34 197.10,473.03 197.40,439.20 197.70,473.06 198.00,445.52 198.30,461.92 198.60,472.99 198.90,472.96 199.20,445.17 199.50,472.99 199.80,473.00 200.10,454.10 200.40,437.82 200.42,471.95 200.60,415.04 200.70,455.65 200.78,471.95 201.00,434.55 201.30,446.70 201.60,448.78 201.90,473.07 202.20,438.35 202.22,471.95 202.40,407.78 202.50,447.34 202.58,471.95 202.80,455.23 203.10,443.12 203.40,473.09 203.70,452.26 204.00,444.82 204.30,460.27 204.60,472.91 204.90,472.60 205.20,447.05 205.50,457.43 205.80,460.44 206.10,463.86 206.32,471.95 206.40,440.88 206.50,353.06 206.68,471.95 206.70,462.11 207.00,472.69 207.30,472.82 207.60,437.59 207.90,440.54 208.20,472.65 208.50,438.76 208.80,472.62 208.82,471.95 209.00,438.08 209.10,472.79 209.18,471.95 209.40,460.26 209.70,456.22 210.00,473.06 210.30,472.83 210.60,454.91 210.82,471.95 210.90,461.55 211.00,422.07 211.18,471.95 211.20,452.07 211.50,441.37 211.80,463.66 212.10,460.77 212.40,472.78 212.70,468.99 213.00,459.61 213.30,472.75 213.60,472.88 213.90,465.87 214.20,464.75 214.50,466.36 214.80,472.68 215.10,472.56 215.40,460.59 215.70,459.25 216.00,473.02 216.30,472.71 216.60,458.02 216.90,437.16 217.20,460.53 217.50,473.01 217.80,472.87 217.82,471.95 218.00,424.49 218.10,472.57 218.18,471.95 218.40,447.85 218.70,439.50 219.00,451.82 219.30,451.00 219.60,472.87 219.82,471.95 219.90,432.24 220.00,431.97 220.18,471.95 220.20,443.03 220.50,462.34 220.80,453.17 221.10,460.09 221.40,447.92 221.42,471.95 221.60,437.04 221.70,437.55 221.78,471.95 222.00,458.64 222.30,434.93 222.60,452.85 222.90,459.11 223.20,445.75 223.50,451.84 223.80,462.71 224.10,453.78 224.40,473.05 224.70,472.77 224.82,471.95 225.00,448.10 225.00,460.08 225.18,471.95 225.30,459.42 225.60,464.10 225.90,463.89 226.20,455.59 226.50,455.22 226.80,472.58 227.10,449.57 227.40,464.13 227.70,460.90 228.00,461.86 228.30,449.28 228.60,472.78 228.82,471.95 228.90,473.08 229.00,444.07 229.18,471.95 229.20,472.53 229.50,453.09 229.80,472.71 230.10,459.00 230.40,449.88 230.70,472.99 231.00,459.85 231.30,447.49 231.60,472.80 231.90,472.77 232.20,445.28 232.42,471.95 232.50,472.71 232.60,413.08 232.78,471.95 232.80,472.55 233.10,450.51 233.40,445.83 233.70,441.65 234.00,460.21 234.30,454.11 234.60,461.49 234.90,458.85 235.20,459.53 235.50,461.10 235.80,462.93 236.10,472.68 236.40,455.98 236.70,455.63 237.00,472.76 237.30,473.03 237.60,459.93 237.90,466.99 238.20,459.53 238.50,472.92 238.80,464.28 239.10,472.58 239.40,457.14 239.70,461.28 240.00,464.50 240.30,458.84 240.60,466.34 240.90,465.98 241.20,452.10 241.50,472.96 241.80,472.91 242.10,472.58 242.40,461.68 242.70,458.52 243.00,473.08 243.30,463.14 243.60,452.40 243.90,460.43 244.20,472.93 244.50,453.07 244.80,472.62 245.10,451.76 245.40,472.59 245.70,459.12 246.00,459.40 246.30,462.86 246.42,471.95 246.60,419.30 246.60,472.68 246.78,471.95 246.90,472.58 247.20,444.82 247.50,472.70 247.80,452.53 248.10,472.97 248.40,472.69 248.70,473.00 249.00,472.72 249.30,463.25 249.60,455.37 249.90,465.30 250.20,472.57 250.50,464.63 250.80,467.17 251.10,462.25 251.40,460.89 251.70,472.75 252.00,472.96 252.30,467.20 252.60,472.66 252.90,472.94 253.20,465.89 253.50,453.71 253.80,472.83 254.10,463.07 254.40,461.35 254.70,472.78 255.00,454.91 255.30,442.76 255.60,450.83 255.90,445.67 256.20,437.71 256.50,472.65 256.80,472.75 256.82,471.95 257.00,428.06 257.10,472.85 257.18,471.95 257.40,442.65 257.70,458.24 258.00,458.62 258.30,451.02 258.60,472.76 258.90,448.91 259.20,459.69 259.50,473.09 259.80,452.83 260.10,457.52 260.40,462.34 260.70,449.02 261.00,442.50 261.30,473.02 261.60,473.08 261.82,471.95 261.90,472.74 262.00,431.05 262.18,471.95 262.20,457.48 262.50,461.96 262.80,459.91 263.10,473.01 263.40,441.33 263.70,462.61 264.00,454.78 264.30,472.54 264.60,472.82 264.90,436.66 265.20,472.84 265.50,463.10 265.80,472.59 266.10,472.87 266.40,472.86 266.70,473.08 266.82,471.95 267.00,429.09 267.00,443.34 267.18,471.95 267.30,458.40 267.60,472.78 267.90,472.83 268.20,454.79 268.50,436.81 268.80,463.09 269.10,445.03 269.40,472.90 269.70,438.28 269.72,471.95 269.90,312.51 270.00,437.58 270.08,471.95 270.30,452.79 270.60,453.14 270.90,457.88 271.20,458.76 271.50,459.29 271.80,472.98 272.10,455.25 272.40,434.15 272.70,438.34 273.00,472.88 273.30,472.70 273.60,456.22 273.90,473.00 274.20,472.87 274.50,442.99 274.72,471.95 274.80,472.89 274.90,388.20 275.08,471.95 275.10,472.56 275.40,441.41 275.70,436.92 276.00,472.91 276.30,461.40 276.60,454.77 276.90,449.02 277.20,472.87 277.50,473.08 277.80,472.76 278.10,472.92 278.40,448.27 278.70,472.69 279.00,472.68 279.30,459.74 279.32,471.95 279.50,419.65 279.60,472.94 279.68,471.95 279.90,452.43 280.20,438.23 280.50,472.93 280.80,457.87 281.10,473.09 281.40,447.60 281.62,471.95 281.70,434.72 281.80,419.88 281.98,471.95 282.00,472.71 282.30,457.86 282.60,444.50 282.90,438.16 283.20,472.74 283.50,472.85 283.80,461.98 284.10,454.68 284.40,456.07 284.52,471.95 284.70,426.21 284.70,472.87 284.88,471.95 285.00,459.21 285.30,457.20 285.60,472.90 285.90,459.64 286.20,443.42 286.50,443.46 286.80,472.87 287.10,461.91 287.40,462.11 287.70,446.99 288.00,454.76 288.30,473.09 288.60,437.41 288.62,471.95 288.80,429.09 288.90,456.58 288.98,471.95 289.20,458.69 289.50,446.09 289.80,453.68 290.10,435.79 290.40,445.72 290.70,452.26 291.00,461.65 291.30,449.22 291.60,448.57 291.90,473.02 292.20,461.02 292.50,447.11 292.80,472.99 292.82,471.95 293.00,445.80 293.10,472.71 293.18,471.95 293.40,473.10 293.70,459.34 294.00,472.82 294.30,456.22 294.60,444.78 294.90,430.45 295.20,451.92 295.50,453.00 295.52,471.95 295.70,419.30 295.80,440.14 295.88,471.95 296.10,430.62 296.40,457.80 296.70,447.15 296.82,471.95 297.00,422.76 297.00,451.17 297.18,471.95 297.30,472.67 297.60,455.42 297.90,472.91 298.20,472.80 298.50,473.06 298.80,473.04 299.10,463.21 299.40,447.77 299.70,462.16 300.00,445.31 300.30,472.95 300.60,447.16 300.82,471.95 300.90,449.17 301.00,438.08 301.18,471.95 301.20,472.69 301.50,472.91 301.80,446.00 302.10,452.82 302.40,449.40 302.70,446.29 303.00,462.95 303.30,450.32 303.60,472.99 303.90,472.76 304.20,442.75 304.50,472.70 304.80,451.26 305.02,471.95 305.10,443.70 305.20,441.19 305.38,471.95 305.40,464.48 305.70,463.09 306.00,472.94 306.30,442.16 306.60,472.91 306.90,472.79 307.20,457.43 307.50,472.64 307.80,459.49 308.10,451.59 308.40,442.48 308.70,449.71 309.00,447.07 309.30,473.00 309.60,472.56 309.90,472.82 310.20,472.91 310.50,472.77 310.80,472.74 311.10,472.97 311.40,457.61 311.52,471.95 311.70,439.46 311.70,473.07 311.88,471.95"/><use href="#b2"/>
<polyline id="r2" stroke="#EF553B" stroke-width="1.25" points="35.30,461.58 36.40,453.52 37.30,466.19 38.50,462.73 39.30,452.36 39.60,435.66 39.90,459.28 40.50,470.80 41.30,461.58 42.00,475.40 42.40,437.73 42.80,463.88 43.40,469.64 44.40,462.73 45.30,467.34 46.00,465.73 47.60,465.04 48.80,467.34 49.60,462.16 50.40,467.34 52.60,466.76 54.40,467.34 57.00,469.07 60.00,469.64 63.40,470.22 66.00,471.37 70.00,471.72 75.00,472.75 85.00,472.87 99.00,472.75 99.40,471.72 100.00,472.52 110.00,472.87 125.00,473.45 140.00,473.33 146.00,472.52 149.00,471.37 150.05,467.53 150.20,467.34 150.50,465.00 150.95,462.27 151.00,462.73 151.40,465.64 151.80,470.80 151.85,470.81 152.30,475.92 152.60,480.70 152.75,475.35 153.20,459.36 153.20,459.28 153.65,463.34 154.00,468.49 154.10,467.63 154.55,464.84 155.00,464.67 155.20,462.73 155.45,457.16 155.90,447.55 156.00,444.65 156.35,455.09 156.60,462.73 156.80,464.85 157.25,470.22 157.40,471.95 157.70,469.79 158.15,467.11 158.20,466.19 158.60,459.76 158.80,458.12 159.05,463.62 159.50,475.40 159.50,475.40 159.95,462.79 160.40,452.59 160.40,451.67 160.85,464.85 161.00,469.64 161.30,472.50 161.75,476.77 161.80,477.25 162.20,469.05 162.60,462.73 162.65,461.88 163.10,447.61 163.20,443.72 163.55,454.93 163.80,465.04 164.00,467.38 164.45,475.73 164.50,476.56 164.90,470.78 165.30,467.34 166.50,469.64 168.00,467.92 170.00,466.19 170.75,464.62 171.20,462.89 171.65,465.38 172.00,462.73 172.10,459.76 172.55,461.84 173.00,460.28 173.45,461.12 173.50,463.88 173.90,464.51 174.35,463.21 174.80,463.70 175.00,461.00 175.25,464.32 175.70,466.43 176.15,466.35 176.50,466.19 176.60,465.61 177.05,467.92 177.50,464.56 177.95,465.86 178.00,465.04 178.40,465.79 178.85,463.15 179.30,464.59 179.40,464.46 179.75,465.48 180.20,464.84 180.65,463.92 181.00,465.04 181.10,467.29 181.55,463.37 182.00,467.92 182.45,465.50 182.90,465.56 183.00,467.34 183.35,467.92 183.80,466.18 185.00,467.92 186.05,469.21 186.40,469.64 186.50,470.83 186.80,476.56 186.95,466.56 187.00,458.70 187.40,470.80 187.40,470.80 187.85,469.62 188.30,465.29 188.50,467.92 190.00,469.07 192.00,468.49 192.80,467.92 193.25,466.38 193.60,466.76 193.70,465.52 194.15,465.67 194.60,467.64 195.00,467.34 195.05,467.92 195.50,464.83 195.95,460.68 196.00,462.73 196.40,456.00 196.60,447.76 196.85,452.90 197.20,465.04 197.30,463.15 197.75,465.22 198.00,469.64 198.20,467.92 198.65,459.96 199.00,460.43 199.10,463.10 199.55,457.79 199.80,454.67 200.00,450.75 200.45,441.47 200.60,442.69 200.90,452.31 201.20,459.28 201.35,454.03 201.80,451.99 201.80,452.36 202.25,434.91 202.40,427.02 202.70,442.94 203.00,455.82 203.15,461.66 203.60,468.49 203.60,468.49 204.05,465.90 204.40,459.28 204.50,458.89 204.95,461.16 205.20,467.34 205.40,467.53 205.85,463.18 205.90,459.28 206.30,472.97 206.30,476.56 206.50,389.23 206.75,466.36 206.80,482.09 207.20,460.85 207.30,454.67 207.65,464.67 208.00,470.80 208.10,468.95 208.55,462.05 209.00,459.60 209.00,459.28 209.45,462.96 209.90,467.92 210.00,466.19 210.35,457.07 210.80,455.81 211.00,448.91 211.25,454.72 211.70,462.54 211.70,465.04 212.15,467.92 212.50,469.64 212.60,468.59 213.05,466.50 213.50,466.15 213.95,464.26 214.00,465.04 214.40,466.07 214.85,464.76 215.30,465.42 215.75,462.92 216.00,463.88 216.20,463.84 216.65,461.97 217.10,455.84 217.30,459.28 217.55,451.42 218.00,441.50 218.00,445.45 218.45,453.61 218.80,459.28 218.90,458.89 219.35,454.73 219.80,454.65 220.00,453.52 220.25,456.98 220.70,459.15 221.00,460.43 221.15,462.21 221.60,456.84 221.60,455.82 222.05,453.99 222.50,456.45 222.95,461.43 223.00,462.73 223.40,462.27 223.85,462.65 224.30,463.51 224.75,461.98 225.00,460.43 225.20,459.10 225.65,459.15 226.10,462.46 226.55,460.63 227.00,461.21 227.00,462.73 227.45,460.88 227.90,460.27 228.35,458.96 228.80,460.38 229.00,459.28 229.25,458.72 229.70,462.10 230.15,462.00 230.50,462.73 230.60,460.80 231.05,458.80 231.50,459.92 231.80,456.97 231.95,449.16 232.40,438.52 232.60,433.93 232.85,443.59 233.30,466.56 233.30,462.73 233.75,466.81 234.00,469.64 234.20,468.26 234.65,464.40 235.00,462.73 235.10,462.92 235.55,461.50 236.00,462.37 236.45,461.85 236.90,463.95 237.00,463.31 237.35,462.74 237.80,462.42 238.25,462.11 238.70,464.29 239.15,462.22 239.60,462.19 240.00,463.88 240.05,463.07 240.50,461.90 240.95,462.07 241.40,464.07 241.85,464.11 242.30,465.79 242.75,462.94 243.00,464.46 243.20,462.59 243.65,464.71 244.10,463.88 244.55,463.86 245.00,463.91 245.45,467.44 245.50,465.04 245.90,464.29 246.20,467.34 246.35,458.54 246.60,445.45 246.80,453.45 247.10,468.49 247.25,467.92 247.70,464.51 248.00,463.88 248.15,462.89 248.60,463.69 249.05,463.63 249.50,466.60 249.95,466.34 250.00,465.04 250.40,465.73 250.85,465.43 251.30,467.63 251.75,466.32 252.00,467.34 252.20,466.71 252.65,467.92 253.10,466.82 253.55,467.52 254.00,467.92 254.00,466.19 254.45,466.59 254.90,464.83 255.35,465.43 255.50,462.73 255.80,463.84 256.25,463.28 256.40,459.28 256.70,454.35 257.00,448.91 257.15,452.75 257.60,459.93 257.70,462.73 258.05,464.08 258.50,467.92 258.50,467.34 258.95,460.22 259.40,462.73 259.50,458.12 259.85,460.84 260.30,464.36 260.50,463.88 260.75,462.39 261.20,460.67 261.30,456.97 261.65,449.92 262.00,447.76 262.10,450.66 262.55,462.04 262.70,461.58 263.00,462.90 263.45,467.92 263.50,467.34 263.90,463.32 264.35,460.69 264.50,458.12 264.80,459.26 265.25,459.07 265.50,463.88 265.70,460.10 266.15,459.80 266.30,458.12 266.60,451.37 267.00,447.76 267.05,447.69 267.50,458.59 267.70,461.58 267.95,466.38 268.40,466.92 268.50,468.49 268.85,463.49 269.30,454.54 269.30,458.12 269.70,476.56 269.75,441.38 269.90,350.53 270.20,479.85 270.20,480.70 270.65,454.29 270.70,450.06 271.10,458.83 271.40,470.80 271.55,468.20 272.00,463.50 272.20,456.97 272.45,459.34 272.90,464.13 273.00,466.19 273.35,466.18 273.80,458.72 274.00,458.12 274.25,457.46 274.60,463.88 274.70,450.46 274.90,420.68 275.15,446.78 275.30,461.58 275.60,467.67 276.00,470.80 276.05,470.16 276.50,460.76 276.95,459.70 277.00,458.12 277.40,457.28 277.85,460.76 278.00,465.04 278.30,461.52 278.75,460.01 279.00,455.82 279.20,446.52 279.50,442.00 279.65,445.48 280.10,456.48 280.20,458.12 280.55,457.02 281.00,448.57 281.00,452.36 281.45,447.24 281.80,443.15 281.90,447.45 282.35,457.81 282.50,461.58 282.80,466.46 283.25,465.43 283.40,467.34 283.70,464.33 284.15,460.32 284.20,458.12 284.60,449.47 284.70,450.06 285.05,453.84 285.40,462.73 285.50,466.86 285.95,464.20 286.40,467.65 286.50,466.19 286.85,460.21 287.30,458.11 287.60,458.12 287.75,459.31 288.20,456.72 288.65,455.18 288.80,451.67 289.10,451.16 289.55,461.59 289.80,462.73 290.00,462.27 290.45,464.18 290.90,463.71 291.00,465.04 291.35,462.47 291.80,459.14 292.00,459.28 292.25,461.01 292.70,457.09 293.00,458.12 293.15,460.04 293.60,461.40 294.00,463.88 294.05,464.46 294.50,462.08 294.95,458.15 295.00,458.12 295.40,454.49 295.70,451.21 295.85,454.16 296.30,455.98 296.40,459.28 296.75,454.45 297.00,452.36 297.20,459.01 297.65,462.96 297.80,462.73 298.10,463.70 298.55,460.52 299.00,461.64 299.00,465.04 299.45,462.16 299.90,462.87 300.00,459.28 300.35,456.33 300.80,456.96 301.00,455.82 301.25,457.08 301.70,459.36 302.00,462.73 302.15,461.56 302.60,461.46 303.05,457.75 303.50,459.99 303.50,459.28 303.95,459.34 304.40,455.87 304.85,459.33 305.20,456.97 305.30,458.68 305.75,457.36 306.20,464.10 306.50,462.73 306.65,460.41 307.10,460.60 307.55,461.54 308.00,461.76 308.00,460.43 308.45,459.72 308.90,459.95 309.35,465.76 309.50,463.88 309.80,464.71 310.25,465.31 310.50,466.19 310.70,466.49 311.15,467.92 311.30,467.34 311.60,462.58 311.70,458.12 312.00,467.34"/><use href="#r2"/>
</g>
<text y="273.6" font-size="10.4"><tspan x="8.85" textLength="43.95" lengthAdjust="spacingAndGlyphs">RAINFALL</tspan> <tspan x="56.55" textLength="30.6" lengthAdjust="spacingAndGlyphs">CURVE</tspan></text>
<text x="34.3" y="476.20" font-size="7.2" text-anchor="end">0</text>
<text x="34.3" y="453.14" font-size="7.2" text-anchor="end">2</text>
<text x="34.3" y="430.08" font-size="7.2" text-anchor="end">4</text>
<text x="34.3" y="407.02" font-size="7.2" text-anchor="end">6</text>
<text x="34.3" y="383.96" font-size="7.2" text-anchor="end">8</text>
<text x="34.3" y="360.90" font-size="7.2" text-anchor="end">10</text>
<text x="34.3" y="337.84" font-size="7.2" text-anchor="end">12</text>
<text x="34.3" y="314.78" font-size="7.2" text-anchor="end">14</text>
<text x="63.00" y="500.1" font-size="7.2" text-anchor="middle">2014</text>
<text x="120.65" y="500.1" font-size="7.2" text-anchor="middle">2015</text>
<text x="178.30" y="500.1" font-size="7.2" text-anchor="middle">2016</text>
<text x="235.95" y="500.1" font-size="7.2" text-anchor="middle">2017</text>
<text x="293.60" y="500.1" font-size="7.2" text-anchor="middle">2018</text>
<text x="164.7" y="517" font-size="8.8" textLength="18.2" lengthAdjust="spacingAndGlyphs">Date</text>
<text transform="translate(10.9,415.5) rotate(-90)" font-size="8.9" textLength="36.4" lengthAdjust="spacingAndGlyphs">RAINFALL</text>
<line x1="320.2" y1="311.55" x2="338.4" y2="311.55" stroke="#636efa" stroke-width="1.05"/>
<line x1="320.2" y1="322.55" x2="338.4" y2="322.55" stroke="#EF553B" stroke-width="1.05"/>
<text y="314.5" font-size="7.4"><tspan x="341.6" textLength="25.4" lengthAdjust="spacingAndGlyphs">ACTUAL</tspan> <tspan x="369.45" textLength="17.5" lengthAdjust="spacingAndGlyphs">(mm)</tspan></text>
<text y="325.2" font-size="7.4"><tspan x="341.6" textLength="14.7" lengthAdjust="spacingAndGlyphs">DWT</tspan> <tspan x="358.95" textLength="17.5" lengthAdjust="spacingAndGlyphs">(mm)</tspan></text>
<text class="cap" x="179.6" y="543.4" font-size="9.3" font-weight="bold" stroke="#111" stroke-width="0.2" textLength="10.9" lengthAdjust="spacingAndGlyphs">(d)</text><text class="cap" x="193" y="543.4" font-size="9.3" stroke="#111" stroke-width="0.12" textLength="16.9" lengthAdjust="spacingAndGlyphs">S-10</text>
</svg></body></html>
